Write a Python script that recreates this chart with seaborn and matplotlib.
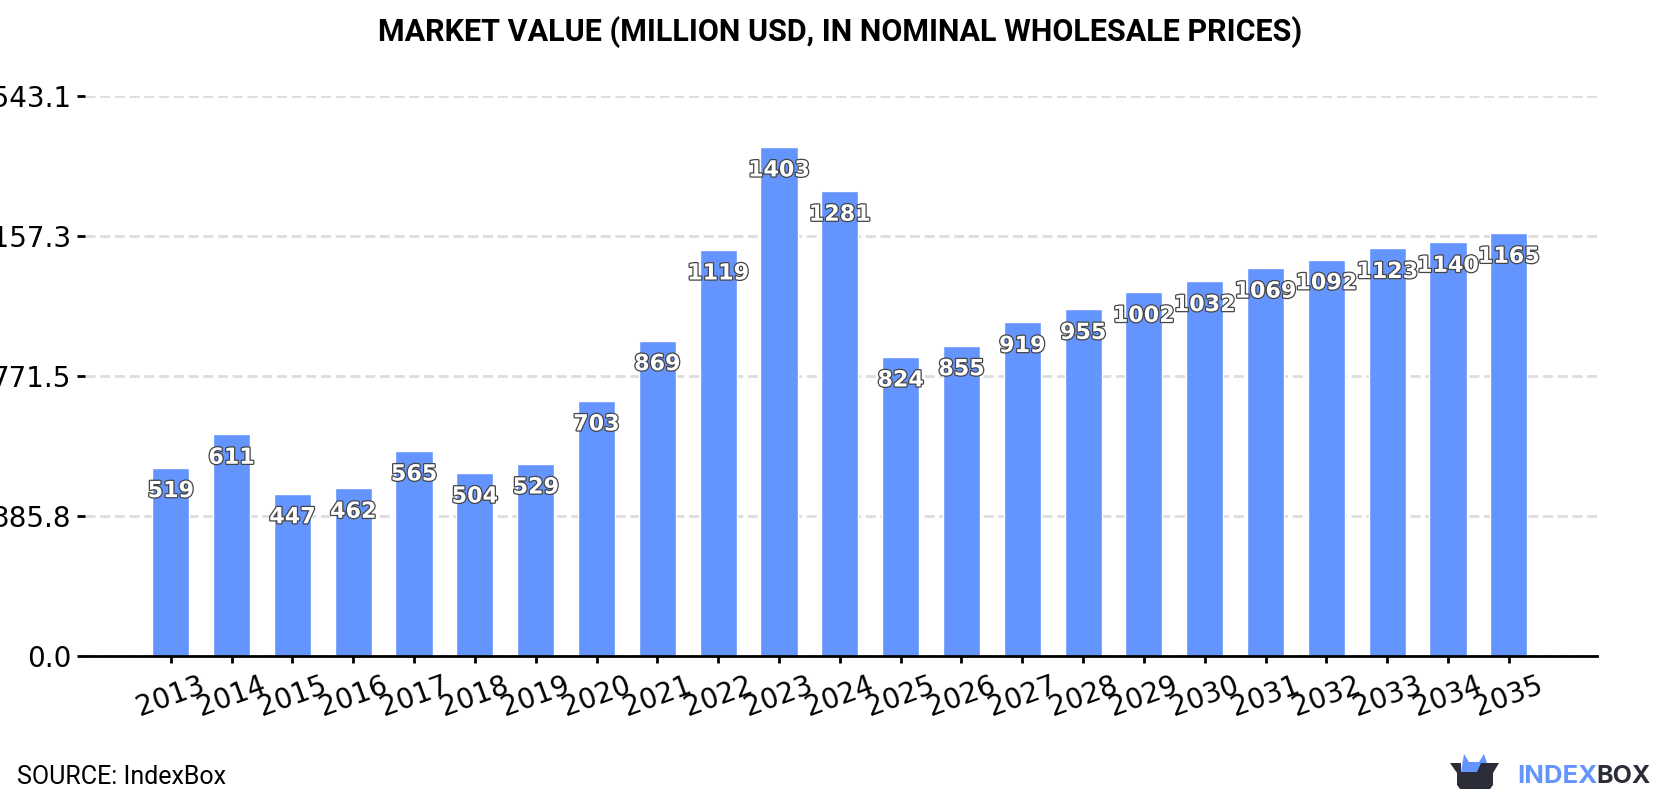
import matplotlib
matplotlib.use("Agg")
import matplotlib.pyplot as plt
import matplotlib.patheffects as pe
from matplotlib.patches import Polygon
import pandas as pd
import seaborn as sns

years = [str(y) for y in range(2013, 2036)]
values = [519, 611, 447, 462, 565, 504, 529, 703, 869, 1119, 1403, 1281,
          824, 855, 919, 955, 1002, 1032, 1069, 1092, 1123, 1140, 1165]
y_ticks = [0.0, 385.8, 771.5, 1157.3, 1543.1]

BAR_BLUE = "#6495FF"
DARK = "#2B2D38"
W, H = 1680, 800

sns.set_theme(style="white")
plt.rcParams["font.family"] = ["DejaVu Sans"]

fig = plt.figure(figsize=(W / 100, H / 100), dpi=100, facecolor="white")
ax = fig.add_axes([85 / W, 1 - 655.8 / H, (1597 - 85) / W, (655.8 - 96) / H])

frame = pd.DataFrame({"year": years, "value": values})
sns.barplot(data=frame, x="year", y="value", color=BAR_BLUE, saturation=1,
            width=0.61, ax=ax, zorder=3)

ax.set_xlim(-1.41, 22 + 1.45)
ax.set_ylim(0, 1543.1)
ax.set_xlabel("")
ax.set_ylabel("")

ax.set_yticks(y_ticks)
ax.set_yticklabels([f"{t:.1f}" for t in y_ticks])
ax.grid(axis="y", color="#DDDDDD", linestyle=(0, (3.6, 1.7)), linewidth=2, zorder=0)
ax.set_axisbelow(True)
ax.tick_params(axis="y", left=True, length=5.8, width=2, color="black", pad=4,
               labelsize=20, labelcolor="black")
ax.tick_params(axis="x", bottom=True, length=5, width=2, color="black", pad=6,
               labelsize=20, labelcolor="black")
for lab in ax.get_xticklabels():
    lab.set_rotation(20)
    lab.set_ha("center")

for side in ("top", "left", "right"):
    ax.spines[side].set_visible(False)
ax.spines["bottom"].set_color("black")
ax.spines["bottom"].set_linewidth(2)
ax.spines["bottom"].set_zorder(5)

# Value captions sit just under the top of each bar
outline = [pe.withStroke(linewidth=1.8, foreground="#444444")]
for i, v in enumerate(values):
    ax.annotate(str(v), xy=(i, v), xytext=(0, -17), textcoords="offset points",
                ha="center", va="center", fontsize=16, fontweight="bold",
                color="white", path_effects=outline, zorder=6)

fig.text(0.5, 1 - 32 / H, "MARKET VALUE (MILLION USD, IN NOMINAL WHOLESALE PRICES)",
         ha="center", va="center", fontsize=22, fontweight="bold",
         family="Roboto", color="black")
fig.text(17 / W, 1 - 777 / H, "SOURCE: IndexBox", ha="left", va="center",
         fontsize=18, family="Roboto", color="black")

# Brand mark: an open box with a blue crown
overlay = fig.add_axes([0, 0, 1, 1], facecolor="none")
overlay.set_xlim(0, W)
overlay.set_ylim(H, 0)
overlay.axis("off")
overlay.add_patch(Polygon(
    [(1461, 772), (1464, 754), (1469, 762), (1479, 762), (1484, 754), (1487, 763),
     (1487, 772), (1477, 772), (1474, 772)],
    closed=True, facecolor=BAR_BLUE, edgecolor="none"))
overlay.add_patch(Polygon(
    [(1450, 763), (1461, 763), (1461, 772), (1477, 772), (1481, 763), (1499, 763),
     (1493, 773), (1493, 785), (1490, 789), (1460, 789), (1457, 785), (1457, 773)],
    closed=True, facecolor=DARK, edgecolor="none"))
overlay.text(1517, 783, "INDEX", ha="left", va="baseline", fontsize=18.5,
             fontweight="bold", family="Inter", color=BAR_BLUE)
overlay.text(1596, 783, "BOX", ha="left", va="baseline", fontsize=18,
             fontweight="bold", family="Inter", color=DARK)

fig.savefig("out.png", dpi=100, facecolor="white")
